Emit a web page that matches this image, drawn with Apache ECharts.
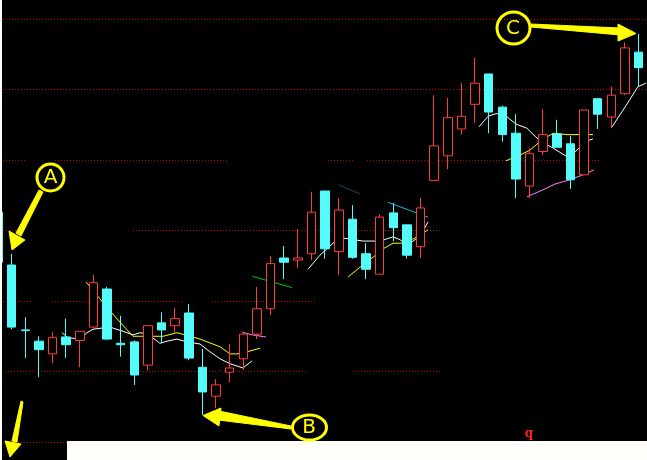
<!DOCTYPE html>
<html>
<head>
<meta charset="utf-8">
<title>K线</title>
<script src="https://cdn.jsdelivr.net/npm/echarts@6/dist/echarts.min.js"></script>
<style>
  html, body { margin: 0; padding: 0; background: #000; }
  #chart { width: 647px; height: 460px; }
</style>
</head>
<body>
<div id="chart"></div>
<script>
// K线数据 [开, 收, 低, 高]，第一根只露出右边一点
const candles = [
  [13.26, 12.55, 12.55, 13.26],
  [12.51, 11.63, 11.60, 12.67],
  [11.59, 11.58, 11.19, 11.77],
  [11.43, 11.31, 10.92, 11.50],
  [11.25, 11.48, 11.12, 11.56],
  [11.49, 11.38, 11.19, 11.75],
  [11.44, 11.57, 11.06, 11.57],
  [11.63, 12.26, 11.62, 12.37],
  [12.17, 11.46, 11.45, 12.20],
  [11.40, 11.38, 11.21, 11.79],
  [11.42, 10.95, 10.81, 11.44],
  [11.09, 11.65, 11.02, 11.66],
  [11.69, 11.59, 11.40, 11.84],
  [11.65, 11.75, 11.55, 11.90],
  [11.83, 11.19, 11.16, 11.96],
  [11.06, 10.71, 10.38, 11.32],
  [10.65, 10.81, 10.48, 10.89],
  [10.99, 11.05, 10.85, 11.39],
  [11.18, 11.53, 11.02, 11.56],
  [11.53, 11.89, 11.46, 12.20],
  [11.89, 12.53, 11.80, 12.64],
  [12.61, 12.55, 12.31, 12.78],
  [12.58, 12.61, 12.47, 13.02],
  [12.67, 13.26, 12.58, 13.55],
  [13.56, 12.74, 12.60, 13.56],
  [12.70, 13.29, 12.37, 13.46],
  [13.16, 12.62, 12.60, 13.36],
  [12.67, 12.45, 12.31, 12.82],
  [12.38, 13.19, 12.38, 13.23],
  [13.25, 13.04, 12.85, 13.39],
  [13.08, 12.65, 12.60, 13.08],
  [12.77, 13.32, 12.61, 13.46],
  [13.71, 14.20, 13.70, 14.92],
  [14.06, 14.60, 13.87, 14.88],
  [14.44, 14.62, 14.36, 15.09],
  [14.79, 15.09, 14.53, 15.45],
  [15.22, 14.68, 14.38, 15.22],
  [14.75, 14.36, 14.26, 14.77],
  [14.38, 13.73, 13.46, 14.65],
  [13.63, 14.09, 13.46, 14.17],
  [14.12, 14.36, 14.07, 14.72],
  [14.37, 14.18, 14.18, 14.57],
  [14.23, 13.72, 13.59, 14.34],
  [13.79, 14.71, 13.79, 14.71],
  [14.87, 14.65, 14.44, 14.87],
  [14.61, 14.92, 14.45, 15.04],
  [14.94, 15.59, 14.92, 15.67],
  [15.53, 15.31, 15.05, 15.79]
]

// 均线片段 [位置, 价格]
const yellowA = [[6.46, 12.27], [7.48, 12.03], [8.22, 11.86], [8.95, 11.70], [9.90, 11.50], [12.11, 11.50], [13.13, 11.55], [14.09, 11.50], [14.82, 11.46], [16.29, 11.35], [17.02, 11.25], [17.53, 11.25], [18.27, 11.28], [19.22, 11.33]]
const whiteA = [[4.69, 11.55], [5.13, 11.48], [6.02, 11.46], [6.53, 11.55], [6.97, 11.60], [8.22, 11.63], [9.17, 11.57], [9.90, 11.52], [10.42, 11.55], [11.00, 11.53], [11.88, 11.40], [12.40, 11.43], [13.13, 11.46], [13.87, 11.42], [14.82, 11.39], [15.55, 11.28], [16.29, 11.18], [17.02, 11.11], [17.97, 11.05], [18.63, 11.15]]
const pinkA = [[17.90, 11.56], [18.63, 11.52], [19.66, 11.49]]
const greenA = [[18.66, 12.35], [21.57, 12.19]]
const whiteB = [[22.74, 12.45], [23.62, 12.65], [24.87, 12.87], [25.46, 12.89], [26.78, 12.85], [28.03, 12.85], [28.98, 12.91], [29.49, 12.87], [30.01, 12.79], [30.96, 12.92], [31.55, 13.12]]
const yellowB = [[25.68, 12.34], [26.56, 12.48], [27.51, 12.62], [28.25, 12.74], [28.98, 12.82], [29.71, 12.82], [30.45, 12.88], [31.03, 12.94], [31.55, 13.01]]
const tealB = [[28.61, 13.40], [31.55, 13.19]]
const dimTealB = [[24.94, 13.65], [26.56, 13.52]]
const whiteC = [[35.29, 14.47], [35.95, 14.62], [36.39, 14.65], [36.98, 14.67], [37.42, 14.60], [38.00, 14.51], [38.81, 14.45], [39.76, 14.27], [40.72, 14.17], [41.89, 14.03], [42.48, 14.14], [43.07, 14.26], [43.65, 14.30]]
const yellowC = [[37.27, 13.99], [38.30, 14.07], [39.03, 14.14], [39.76, 14.26], [40.72, 14.38], [41.75, 14.36], [43.65, 14.36]]
const pinkC = [[38.81, 13.48], [39.91, 13.57], [40.87, 13.66], [41.97, 13.72], [42.92, 13.79], [43.73, 13.86]]
const whiteD = [[45.05, 14.47], [46.07, 14.77], [46.95, 15.04], [47.54, 15.09]]

// 价格线 10~16，原图有些地方被擦掉了，只画能看到的横向片段(像素)
const gridSpans = {
  16: [[0, 647]],
  15: [[0, 647]],
  14: [[0, 26], [55, 227], [328, 353], [367, 600]],
  13: [[3, 17], [133, 440]],
  12: [[0, 32], [52, 182], [212, 317]],
  11: [[5, 308], [355, 440]],
  10: [[0, 67]]
}

const myChart = echarts.init(document.getElementById('chart'))

// 画一段均线
function seg (data, color, opacity) {
  return {
    type: 'line',
    data: data,
    showSymbol: false,
    silent: true,
    z: 3,
    lineStyle: { color: color, width: 1, opacity: opacity || 1 }
  }
}

const yellow = '#ffff00'
const arrowStyle = { fill: yellow, stroke: yellow, lineWidth: 1 }

const option = {
  backgroundColor: '#000',
  animation: false,
  grid: { left: 0, right: 1.56, top: 19, bottom: 18 },
  xAxis: {
    type: 'value',
    min: 0.145,
    max: 47.5,
    show: false
  },
  yAxis: {
    type: 'value',
    min: 10,
    max: 16,
    interval: 1,
    axisLine: { show: false },
    axisTick: { show: false },
    axisLabel: { show: false },
    splitLine: { show: false }
  },
  series: [
    {
      type: 'candlestick',
      data: candles.map((c, i) => [i].concat(c)),
      encode: { x: 0, y: [1, 2, 3, 4] },
      barWidth: 9,
      z: 4,
      itemStyle: {
        color: '#000',
        color0: '#54fcfc',
        borderColor: '#ff3c3c',
        borderColor0: '#54fcfc',
        borderColorDoji: '#54fcfc',
        borderWidth: 1
      }
    },
    seg(yellowA, yellow),
    seg(whiteA, '#ffffff'),
    seg(pinkA, '#ff80ff'),
    seg(greenA, '#00c800'),
    seg(whiteB, '#ffffff'),
    seg(yellowB, yellow),
    seg(tealB, '#20b8d8'),
    seg(dimTealB, '#0c6060', 0.8),
    seg(whiteC, '#ffffff'),
    seg(yellowC, yellow),
    seg(pinkC, '#ff80ff'),
    seg(whiteD, '#ffffff')
  ],
  graphic: [
    // 左边白条、底部白块
    { type: 'rect', shape: { x: 0, y: 0, width: 2, height: 460 }, style: { fill: '#fffef8' }, z: 100 },
    { type: 'rect', shape: { x: 67, y: 441, width: 580, height: 19 }, style: { fill: '#fffef8' }, z: 100 },
    // A
    { type: 'ellipse', shape: { cx: 50.5, cy: 177.5, rx: 13.5, ry: 13.5 }, style: { fill: 'none', stroke: yellow, lineWidth: 3 }, z: 101 },
    { type: 'text', x: 50.5, y: 178, style: { text: 'A', fill: yellow, font: '20px "DejaVu Sans"', align: 'center', verticalAlign: 'middle' }, z: 101 },
    { type: 'polygon', shape: { points: [[39, 190], [43, 192], [21, 236], [16, 233]] }, style: arrowStyle, z: 101 },
    { type: 'polygon', shape: { points: [[9, 231], [25, 240], [12, 250]] }, style: arrowStyle, z: 101 },
    // 左下箭头
    { type: 'polygon', shape: { points: [[21, 401], [23, 402], [17, 442], [12, 441]] }, style: arrowStyle, z: 101 },
    { type: 'polygon', shape: { points: [[5, 441], [21, 444], [10, 457]] }, style: arrowStyle, z: 101 },
    // B
    { type: 'ellipse', shape: { cx: 309.5, cy: 427.5, rx: 17, ry: 12.5 }, style: { fill: 'none', stroke: yellow, lineWidth: 3 }, z: 101 },
    { type: 'text', x: 309, y: 428, style: { text: 'B', fill: yellow, font: '20px "DejaVu Sans"', align: 'center', verticalAlign: 'middle' }, z: 101 },
    { type: 'polygon', shape: { points: [[219, 411], [291, 426], [291, 429], [218, 420]] }, style: arrowStyle, z: 101 },
    { type: 'polygon', shape: { points: [[221, 408], [203, 415.5], [219, 426]] }, style: arrowStyle, z: 101 },
    // C
    { type: 'ellipse', shape: { cx: 513.5, cy: 28, rx: 16.5, ry: 16 }, style: { fill: 'none', stroke: yellow, lineWidth: 3 }, z: 101 },
    { type: 'text', x: 513, y: 29, style: { text: 'C', fill: yellow, font: '20px "DejaVu Sans"', align: 'center', verticalAlign: 'middle' }, z: 101 },
    { type: 'polygon', shape: { points: [[531, 24], [620, 28], [620, 35], [531, 27]] }, style: arrowStyle, z: 101 },
    { type: 'polygon', shape: { points: [[618, 24], [636, 33.5], [618, 41]] }, style: arrowStyle, z: 101 },
    // 底部红字
    { type: 'text', x: 529, y: 434, style: { text: 'q', fill: '#ff2020', font: 'bold 12px "DejaVu Serif"', align: 'center', verticalAlign: 'middle' }, z: 101 }
  ]
}

myChart.setOption(option)

// 价格线的位置由y轴换算
const gridLines = []
Object.keys(gridSpans).forEach(v => {
  const y = Math.floor(myChart.convertToPixel({ yAxisIndex: 0 }, Number(v))) + 0.5
  gridSpans[v].forEach(s => {
    gridLines.push({
      type: 'line',
      silent: true,
      z: 1,
      shape: { x1: s[0], y1: y, x2: s[1], y2: y },
      style: { stroke: '#d00000', lineWidth: 1, lineDash: [1, 2] }
    })
  })
})
myChart.setOption({ graphic: option.graphic.concat(gridLines) })

window.onresize = function () {
  myChart.resize()
}
</script>
</body>
</html>
